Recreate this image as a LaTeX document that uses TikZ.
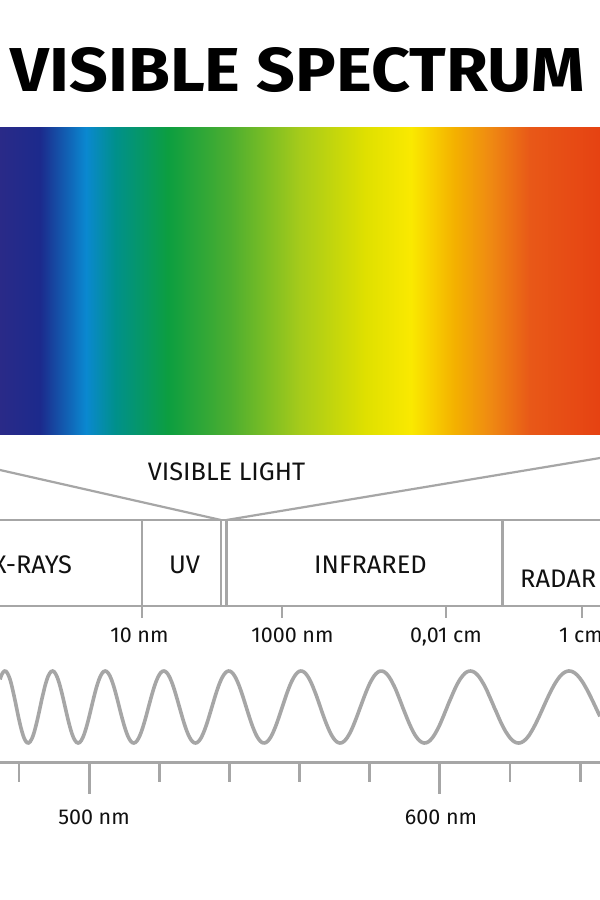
\documentclass[tikz,border=0pt]{standalone}
\usepackage{fontspec}
\setmainfont{Fira Sans}
\definecolor{ln}{HTML}{A6A6A6}
\definecolor{txt}{HTML}{111111}
\definecolor{s0}{HTML}{2A2A88}
\definecolor{s1}{HTML}{1C2A8C}
\definecolor{s2}{HTML}{0A88D0}
\definecolor{s3}{HTML}{00908C}
\definecolor{s4}{HTML}{0C9E40}
\definecolor{s5}{HTML}{4CAE30}
\definecolor{s6}{HTML}{A6CB1A}
\definecolor{s7}{HTML}{DFE000}
\definecolor{s8}{HTML}{FAE900}
\definecolor{s9}{HTML}{F4B000}
\definecolor{s10}{HTML}{EF8A12}
\definecolor{s11}{HTML}{E85818}
\definecolor{s12}{HTML}{E64212}
\pgfdeclarehorizontalshading{spec}{100bp}{
color(0bp)=(s0); color(25bp)=(s0); color(28.33bp)=(s1); color(32.17bp)=(s2);
color(34.58bp)=(s3); color(39bp)=(s4); color(44.17bp)=(s5); color(50bp)=(s6);
color(55.42bp)=(s7); color(59.25bp)=(s8); color(62.92bp)=(s9); color(65.83bp)=(s10);
color(69.17bp)=(s11); color(75bp)=(s12); color(100bp)=(s12)}
\tikzset{
  boxline/.style={draw=ln, line width=2.2pt},
  wave/.style={draw=ln, line width=3.6pt},
  axisline/.style={draw=ln, line width=3pt},
  tickline/.style={draw=ln, line width=2.6pt},
  boxlbl/.style={anchor=base, inner sep=0pt, text=txt, font=\fontsize{25.4}{25.4}\selectfont},
  ticklbl/.style={anchor=base, inner sep=0pt, text=txt, font=\fontsize{21.5}{21.5}\selectfont},
}
\begin{document}
\begin{tikzpicture}[x=1pt, y=-1pt]
\useasboundingbox[fill=white] (0,0) rectangle (600,900);
% title
\node[anchor=base, inner sep=0pt, text=black] (title) at (298,91)
  {\resizebox{574pt}{44pt}{\bfseries VISIBLE SPECTRUM}};
% spectrum band
\shade[shading=spec] (0,127.5) rectangle (600,434);
% visible light funnel
\coordinate (fl) at (0,470);
\coordinate (fr) at (600,458);
\coordinate (vl) at (221,520);
\coordinate (vr) at (226.5,520);
\draw[boxline] (fl) -- (vl);
\draw[boxline] (vr) -- (fr);
\node[boxlbl, font=\fontsize{25.3}{25.3}\selectfont] (vis) at (226.5,480) {VISIBLE LIGHT};
% boxes
\coordinate (tl) at (0,520); \coordinate (trr) at (600,520);
\coordinate (bl) at (0,606); \coordinate (brr) at (600,606);
\draw[boxline] (tl) -- (trr);
\draw[boxline] (bl) -- (brr);
\foreach \xx in {142,221,226.5,502.5} \draw[boxline] (\xx,520) -- (\xx,606);
\foreach \xx in {142,282,446,582} \draw[boxline] (\xx,606) -- (\xx,618);
\node[boxlbl] (xr) at (32.5,573) {X-RAYS};
\node[boxlbl] (uv) at (184.5,573) {UV};
\node[boxlbl] (ir) at (370.5,573) {INFRARED};
\node[boxlbl, anchor=base west] (rad) at (520,587) {RADAR};
\node[ticklbl] (t1) at (139.5,642) {10 nm};
\node[ticklbl] (t2) at (292.5,642) {1000 nm};
\node[ticklbl] (t3) at (446,642) {0,01 cm};
\node[ticklbl, anchor=base west] (t4) at (559,642) {1 cm};
% wave
\draw[wave] plot[domain=0:600, samples=400, smooth] (\x, {707 - 36*cos(360*(9.551*ln((44.55+0.1047*\x)/50.04)))});
% wavelength axis
\draw[axisline] (0,762) -- (600,762);
\foreach \xx in {19.1,159.6,229.6,299.7,369.7,510.1,580.2} \draw[tickline] (\xx,762) -- (\xx,782);
\foreach \xx in {89.2,439.7} \draw[tickline] (\xx,762) -- (\xx,794);
\node[ticklbl] (n5) at (94,824) {500 nm};
\node[ticklbl] (n6) at (441,824) {600 nm};
\end{tikzpicture}
\end{document}
